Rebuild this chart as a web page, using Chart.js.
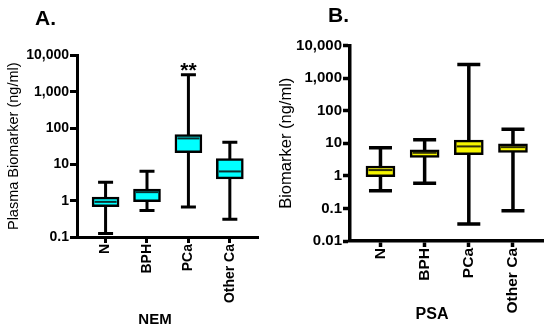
<!DOCTYPE html>
<html>
<head>
    <title>NEM and PSA Box Plots</title>
    <script src="https://cdn.jsdelivr.net/npm/chart.js"></script>
    <style>
        body { margin: 0; background: #fff; }
        .panel { position: absolute; top: 0; width: 275px; height: 331px; }
    </style>
</head>
<body>
    <div class="panel" style="left:0"><canvas id="nemChart" width="275" height="331"></canvas></div>
    <div class="panel" style="left:275px"><canvas id="psaChart" width="275" height="331"></canvas></div>
    <script>
        const groups = ['N', 'BPH', 'PCa', 'Other Ca'];

        // NEM (panel A), ng/ml
        const nemMin = [0.125, 0.54, 0.67, 0.31];
        const nemQ1 = [0.68, 0.94, 21, 4.0];
        const nemMedian = [0.93, 1.72, 52, 6.4];
        const nemQ3 = [1.26, 2.1, 66, 14.5];
        const nemMax = [3.2, 6.5, 2950, 41];
        const nemTicks = [0.1, 1, 10, 100, 1000, 10000];

        // PSA (panel B), ng/ml
        const psaMin = [0.35, 0.59, 0.033, 0.085];
        const psaQ1 = [0.94, 3.7, 4.5, 5.2];
        const psaMedian = [1.5, 5.1, 8.0, 7.6];
        const psaQ3 = [2.0, 6.3, 12.5, 9.6];
        const psaMax = [7.3, 12.8, 2600, 27];
        const psaTicks = [0.01, 0.1, 1, 10, 100, 1000, 10000];

        const FONT = "'Liberation Sans', Arial, sans-serif";

        // whiskers behind the boxes, medians and extra text on top
        function boxExtras(stats, st) {
            return {
                id: 'boxExtras',
                beforeDatasetsDraw(chart) {
                    const { ctx, scales: { x, y } } = chart;
                    ctx.save();
                    ctx.strokeStyle = '#000';
                    ctx.lineWidth = st.lineWidth;
                    stats.min.forEach((lo, i) => {
                        const px = x.getPixelForValue(i);
                        const yLo = y.getPixelForValue(lo);
                        const yHi = y.getPixelForValue(stats.max[i]);
                        ctx.beginPath();
                        ctx.moveTo(px, yLo); ctx.lineTo(px, yHi);
                        ctx.moveTo(px - st.cap / 2, yLo); ctx.lineTo(px + st.cap / 2, yLo);
                        ctx.moveTo(px - st.cap / 2, yHi); ctx.lineTo(px + st.cap / 2, yHi);
                        ctx.stroke();
                    });
                    ctx.restore();
                },
                afterDatasetsDraw(chart) {
                    const { ctx, scales: { x, y } } = chart;
                    ctx.save();
                    ctx.strokeStyle = st.medianColor;
                    ctx.lineWidth = st.medianWidth;
                    stats.median.forEach((m, i) => {
                        const px = x.getPixelForValue(i);
                        const py = y.getPixelForValue(m);
                        ctx.beginPath();
                        ctx.moveTo(px - st.box / 2 + st.border, py);
                        ctx.lineTo(px + st.box / 2 - st.border, py);
                        ctx.stroke();
                    });
                    ctx.fillStyle = '#000';
                    ctx.textAlign = 'left';
                    ctx.textBaseline = 'alphabetic';
                    ctx.font = 'bold 21px ' + FONT;
                    ctx.fillText(st.letter, st.letterX, st.letterY);
                    ctx.textAlign = 'center';
                    ctx.textBaseline = 'middle';
                    ctx.font = 'bold ' + st.titleSize + 'px ' + FONT;
                    ctx.fillText(st.title, st.titleX, st.titleY);
                    if (st.stars !== undefined) {
                        const i = st.stars;
                        ctx.textBaseline = 'alphabetic';
                        ctx.font = 'bold 21px ' + FONT;
                        ctx.fillText('**', x.getPixelForValue(i), y.getPixelForValue(stats.max[i]) + 2);
                    }
                    ctx.restore();
                }
            };
        }

        function makeChart(id, stats, ticks, color, st) {
            const ctx = document.getElementById(id).getContext('2d');
            return new Chart(ctx, {
                type: 'bar',
                data: {
                    datasets: [{
                        data: groups.map((g, i) => ({ x: i, y: [stats.q1[i], stats.q3[i]] })),
                        backgroundColor: color,
                        borderColor: '#000',
                        borderWidth: st.border,
                        borderSkipped: false,
                        barThickness: st.box
                    }]
                },
                options: {
                    responsive: false,
                    devicePixelRatio: 1,
                    animation: false,
                    events: [],
                    layout: { padding: st.padding },
                    plugins: { legend: { display: false }, tooltip: { enabled: false } },
                    scales: {
                        x: {
                            type: 'linear',
                            offset: false,
                            min: -0.69,
                            max: 3.68,
                            afterBuildTicks: s => { s.ticks = groups.map((g, i) => ({ value: i })); },
                            afterFit: s => { s.height = st.xHeight; },
                            ticks: {
                                callback: v => groups[v],
                                minRotation: 90,
                                maxRotation: 90,
                                autoSkip: false,
                                padding: 1,
                                color: '#000',
                                font: { family: FONT, size: st.xTickSize, weight: 'bold' }
                            },
                            grid: { offset: false, drawOnChartArea: false, tickLength: 6, tickWidth: st.lineWidth, tickColor: '#000' },
                            border: { color: '#000', width: st.lineWidth }
                        },
                        y: {
                            type: 'logarithmic',
                            min: ticks[0],
                            max: ticks[ticks.length - 1],
                            afterBuildTicks: s => { s.ticks = ticks.map(v => ({ value: v })); },
                            afterFit: s => { s.width = st.yWidth; },
                            ticks: {
                                callback: v => Number(v).toLocaleString('en-US'),
                                autoSkip: false,
                                padding: 1,
                                color: '#000',
                                font: { family: FONT, size: st.yTickSize, weight: 'bold' }
                            },
                            grid: { drawOnChartArea: false, tickLength: 7, tickWidth: st.lineWidth, tickColor: '#000' },
                            border: { color: '#000', width: st.lineWidth },
                            title: {
                                display: true,
                                text: st.yTitle,
                                color: '#000',
                                padding: { top: st.yTitlePad, bottom: 0 },
                                font: { family: FONT, size: st.yTitleSize }
                            }
                        }
                    }
                },
                plugins: [boxExtras(stats, st)]
            });
        }

        makeChart('nemChart',
            { min: nemMin, q1: nemQ1, median: nemMedian, q3: nemQ3, max: nemMax },
            nemTicks, '#00ffff', {
                lineWidth: 3, border: 2.5, box: 27, cap: 15, medianWidth: 2, medianColor: '#0a2e2e',
                padding: { left: 0, top: 55.5, right: 17, bottom: 3 },
                xHeight: 91, yWidth: 77,
                xTickSize: 14, yTickSize: 14,
                yTitle: 'Plasma Biomarker (ng/ml)', yTitleSize: 14.5, yTitlePad: 5,
                letter: 'A.', letterX: 35, letterY: 25,
                title: 'NEM', titleSize: 15, titleX: 155, titleY: 320,
                stars: 2
            });

        makeChart('psaChart',
            { min: psaMin, q1: psaQ1, median: psaMedian, q3: psaQ3, max: psaMax },
            psaTicks, '#f5f500', {
                lineWidth: 3.5, border: 2.5, box: 29, cap: 23, medianWidth: 2, medianColor: '#2e2e0a',
                padding: { left: 0, top: 45.5, right: 7, bottom: 3 },
                xHeight: 87, yWidth: 75,
                xTickSize: 15.5, yTickSize: 15,
                yTitle: 'Biomarker (ng/ml)', yTitleSize: 16.5, yTitlePad: 2,
                letter: 'B.', letterX: 53, letterY: 22,
                title: 'PSA', titleSize: 16, titleX: 157, titleY: 315
            });
    </script>
</body>
</html>
